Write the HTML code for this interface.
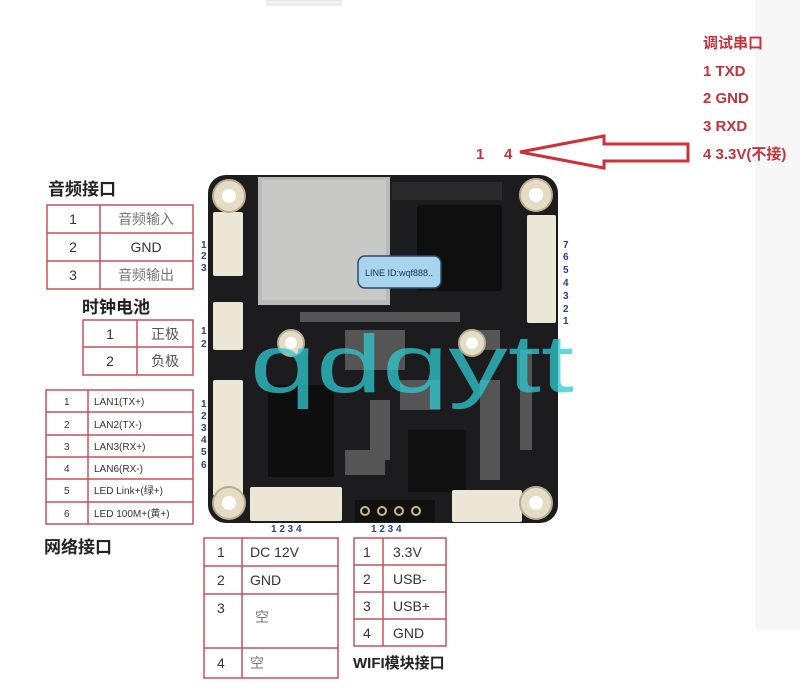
<!DOCTYPE html>
<html><head><meta charset="utf-8"><style>
html,body{margin:0;padding:0;background:#fff;}
svg{display:block;font-family:"Liberation Sans","Noto Sans CJK SC",sans-serif;}
</style></head><body>
<svg width="800" height="691" viewBox="0 0 800 691" xmlns="http://www.w3.org/2000/svg">
<rect x="755" y="0" width="45" height="630" fill="#f7f7f7"/>
<rect x="267" y="0" width="74" height="5" fill="#f2f2f2" stroke="#ddd"/>

<!-- Serial labels -->
<g fill="#c4343c" font-weight="bold" font-size="15">
<text x="703" y="48">调试串口</text>
<text x="703" y="76">1 TXD</text>
<text x="703" y="103">2 GND</text>
<text x="703" y="131">3 RXD</text>
<text x="703" y="159">4 3.3V(不接)</text>
<text x="476" y="159">1</text>
<text x="504" y="159">4</text>
</g>
<polygon points="520,152 604,136 604,144 688,144 688,161 604,161 604,168" fill="#fff" stroke="#d0303a" stroke-width="3"/>

<!-- PCB -->
<rect x="208" y="175" width="350" height="348" rx="18" fill="#1c1c1e"/>
<rect x="258" y="177" width="132" height="128" fill="#b9b9b9"/>
<rect x="262" y="180" width="124" height="120" fill="#c8c8c6"/>
<rect x="392" y="182" width="110" height="18" fill="#2a2a2a"/>
<rect x="417" y="205" width="85" height="86" rx="3" fill="#0f0f10"/>
<rect x="268" y="385" width="66" height="92" fill="#0e0e0f"/>
<rect x="408" y="430" width="58" height="62" fill="#111"/>
<g fill="#555">
<rect x="300" y="312" width="160" height="10"/><rect x="345" y="330" width="60" height="40"/>
<rect x="400" y="380" width="40" height="30"/><rect x="470" y="330" width="30" height="20"/>
<rect x="370" y="400" width="20" height="60"/><rect x="480" y="380" width="20" height="100"/>
<rect x="520" y="350" width="12" height="100"/><rect x="345" y="450" width="40" height="25"/>
</g>
<g fill="#ece6d6">
<rect x="213" y="212" width="30" height="64" rx="2"/>
<rect x="213" y="302" width="30" height="48" rx="2"/>
<rect x="213" y="380" width="30" height="116" rx="2"/>
<rect x="527" y="215" width="29" height="108" rx="2"/>
<rect x="250" y="487" width="92" height="34" rx="2"/>
<rect x="452" y="490" width="70" height="32" rx="2"/>
</g>
<g fill="#e4dcc4" stroke="#b9ad90" stroke-width="2">
<circle cx="229" cy="196" r="16"/><circle cx="536" cy="195" r="16"/>
<circle cx="229" cy="503" r="16"/><circle cx="536" cy="503" r="16"/>
<circle cx="291" cy="343" r="13"/><circle cx="472" cy="343" r="13"/>
</g>
<g fill="#fff"><circle cx="229" cy="196" r="7"/><circle cx="536" cy="195" r="7"/>
<circle cx="229" cy="503" r="7"/><circle cx="536" cy="503" r="7"/>
<circle cx="291" cy="343" r="6"/><circle cx="472" cy="343" r="6"/></g>
<rect x="355" y="500" width="80" height="22" fill="#111"/>
<g fill="none" stroke="#c9b78a" stroke-width="2">
<circle cx="365" cy="511" r="4"/><circle cx="382" cy="511" r="4"/><circle cx="399" cy="511" r="4"/><circle cx="416" cy="511" r="4"/></g>
<text transform="translate(250,392) scale(1.45,1)" font-size="82" fill="#2fc9d0" fill-opacity="0.75">qdqytt</text>
<rect x="358" y="256" width="83" height="32" rx="7" fill="#a8d4ef" stroke="#2c4b6a" stroke-width="1.5"/>
<text x="399" y="276" font-size="9" text-anchor="middle" fill="#1b2f4a">LINE ID:wqf888..</text>

<!-- pin numbers -->
<g fill="#2b3f8a" font-weight="bold" font-size="10">
<text x="201" y="248">1</text><text x="201" y="259">2</text><text x="201" y="271">3</text>
<text x="201" y="334">1</text><text x="201" y="347">2</text>
<text x="201" y="407">1</text><text x="201" y="419">2</text><text x="201" y="431">3</text><text x="201" y="443">4</text><text x="201" y="455">5</text><text x="201" y="468">6</text>
<text x="563" y="248">7</text><text x="563" y="260">6</text><text x="563" y="273">5</text><text x="563" y="286">4</text><text x="563" y="299">3</text><text x="563" y="312">2</text><text x="563" y="324">1</text>
<text x="271" y="532">1 2 3 4</text><text x="371" y="532">1 2 3 4</text>
</g>

<!-- tables -->
<g fill="none" stroke="#c9505a" stroke-width="1.5">
<rect x="47" y="205" width="146" height="84"/><line x1="47" y1="233" x2="193" y2="233"/><line x1="47" y1="261" x2="193" y2="261"/><line x1="100" y1="205" x2="100" y2="289"/>
<rect x="83" y="320" width="110" height="55"/><line x1="83" y1="347" x2="193" y2="347"/><line x1="137" y1="320" x2="137" y2="375"/>
<rect x="46" y="390" width="147" height="134"/><line x1="88" y1="390" x2="88" y2="524"/>
<line x1="46" y1="412" x2="193" y2="412"/><line x1="46" y1="435" x2="193" y2="435"/><line x1="46" y1="457" x2="193" y2="457"/><line x1="46" y1="479" x2="193" y2="479"/><line x1="46" y1="502" x2="193" y2="502"/>
<rect x="204" y="538" width="134" height="140"/><line x1="242" y1="538" x2="242" y2="678"/><line x1="204" y1="566" x2="338" y2="566"/><line x1="204" y1="594" x2="338" y2="594"/><line x1="204" y1="648" x2="338" y2="648"/>
<rect x="354" y="538" width="92" height="108"/><line x1="383" y1="538" x2="383" y2="646"/><line x1="354" y1="565" x2="446" y2="565"/><line x1="354" y1="592" x2="446" y2="592"/><line x1="354" y1="619" x2="446" y2="619"/>
</g>
<g fill="#222" font-weight="bold" font-size="17">
<text x="48" y="195">音频接口</text><text x="82" y="313">时钟电池</text><text x="44" y="553">网络接口</text>
<text x="353" y="668" font-size="15">WIFI模块接口</text>
</g>
<g fill="#333" font-size="14" text-anchor="middle">
<text x="73" y="224">1</text><text x="73" y="252">2</text><text x="73" y="280">3</text>
<text x="146" y="224" fill="#777">音频输入</text><text x="146" y="252">GND</text><text x="146" y="280" fill="#777">音频输出</text>
<text x="110" y="339">1</text><text x="110" y="366">2</text><text x="165" y="339" fill="#555">正极</text><text x="165" y="366" fill="#555">负极</text>
</g>
<g fill="#333" font-size="10">
<text x="64" y="405">1</text><text x="64" y="428">2</text><text x="64" y="450">3</text><text x="64" y="472">4</text><text x="64" y="494">5</text><text x="64" y="517">6</text>
<text x="94" y="405">LAN1(TX+)</text><text x="94" y="428">LAN2(TX-)</text><text x="94" y="450">LAN3(RX+)</text><text x="94" y="472">LAN6(RX-)</text><text x="94" y="494">LED Link+(绿+)</text><text x="94" y="517">LED 100M+(黄+)</text>
</g>
<g fill="#333" font-size="14">
<text x="217" y="557">1</text><text x="217" y="585">2</text><text x="217" y="613">3</text><text x="217" y="668">4</text>
<text x="250" y="557">DC 12V</text><text x="250" y="585">GND</text><text x="255" y="622" fill="#777">空</text><text x="250" y="668" fill="#777">空</text>
<text x="363" y="557">1</text><text x="363" y="584">2</text><text x="363" y="611">3</text><text x="363" y="638">4</text>
<text x="393" y="557">3.3V</text><text x="393" y="584">USB-</text><text x="393" y="611">USB+</text><text x="393" y="638">GND</text>
</g>
</svg>
</body></html>
